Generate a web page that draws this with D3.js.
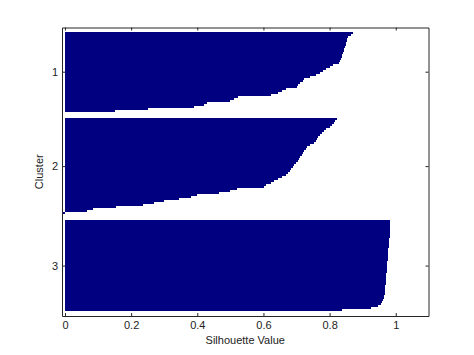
<!DOCTYPE html>
<html>
<head>
<meta charset="utf-8">
<script src="https://cdn.jsdelivr.net/npm/d3@7"></script>
<style>
body { margin: 0; background: #fff; }
text { font-family: "Liberation Sans", Arial, sans-serif; }
</style>
</head>
<body>
<div id="chart"></div>
<script>
// silhouette values, sorted within each cluster
var clusterLabels = ["1", "2", "3"];
var silCluster1 = [0.871, 0.865, 0.857, 0.854, 0.852, 0.851, 0.849, 0.847, 0.845, 0.843,
    0.841, 0.838, 0.836, 0.834, 0.832, 0.829, 0.81, 0.80, 0.79, 0.78,
    0.77, 0.76, 0.74, 0.724, 0.72, 0.712, 0.705, 0.70, 0.668, 0.655,
    0.645, 0.624, 0.522, 0.51, 0.498, 0.43, 0.42, 0.39, 0.25, 0.15];
var silCluster2 = [0.821, 0.817, 0.812, 0.808, 0.80, 0.79, 0.783, 0.776, 0.770, 0.766,
    0.762, 0.758, 0.754, 0.74, 0.733, 0.728, 0.724, 0.72, 0.716, 0.712,
    0.708, 0.704, 0.698, 0.692, 0.688, 0.684, 0.679, 0.673, 0.667, 0.655,
    0.645, 0.632, 0.622, 0.608, 0.602, 0.519, 0.50, 0.465, 0.40, 0.38,
    0.345, 0.30, 0.27, 0.235, 0.155, 0.085, 0.066, -0.007];
var silCluster3 = [0.984, 0.984, 0.984, 0.984, 0.984, 0.983, 0.983, 0.982, 0.982, 0.981,
    0.980, 0.980, 0.979, 0.979, 0.978, 0.978, 0.977, 0.977, 0.976, 0.976,
    0.975, 0.975, 0.974, 0.974, 0.973, 0.973, 0.972, 0.972, 0.971, 0.971,
    0.970, 0.970, 0.969, 0.969, 0.968, 0.967, 0.966, 0.965, 0.964, 0.962,
    0.959, 0.955, 0.945, 0.925, 0.836];
var xTicks = [0, 0.2, 0.4, 0.6, 0.8, 1];
var xTickLabels = ["0", "0.2", "0.4", "0.6", "0.8", "1"];
var gapRows = 3;

var clusters = [silCluster1, silCluster2, silCluster3];

// lay the bars out row by row, with a gap between clusters
var rows = [], clusterCenters = [], r = 0;
clusters.forEach(function(vals, k) {
    clusterCenters.push(r + vals.length / 2);
    vals.forEach(function(v) { rows.push({row: r, value: v, cluster: k}); r++; });
    r += gapRows;
});
var totalRows = r - gapRows;

var margin = {top: 27.5, right: 45.5, bottom: 39, left: 62},
    width = 474 - margin.left - margin.right,
    height = 355 - margin.top - margin.bottom;

var x = d3.scaleLinear()
    .domain([-0.009, 1.099])
    .range([0, width]);

var y = d3.scaleLinear()
    .domain([-2, totalRows + 2.6])
    .range([0, height]);

var svg = d3.select("#chart").append("svg")
    .attr("width", width + margin.left + margin.right)
    .attr("height", height + margin.top + margin.bottom)
  .append("g")
    .attr("transform", "translate(" + margin.left + "," + margin.top + ")");

svg.append("g")
    .attr("class", "bars")
    .attr("shape-rendering", "crispEdges")
  .selectAll("rect")
    .data(rows)
  .enter().append("rect")
    .attr("x", function(d) { return x(Math.min(0, d.value)); })
    .attr("y", function(d) { return y(d.row); })
    .attr("width", function(d) { return Math.abs(x(d.value) - x(0)); })
    .attr("height", function(d) { return y(d.row + 1) - y(d.row); })
    .attr("fill", "#000080");

var axisColor = "#262626";

var xAxis = d3.axisBottom(x)
    .tickValues(xTicks)
    .tickFormat(function(d, i) { return xTickLabels[i]; })
    .tickSizeInner(-3)
    .tickSizeOuter(0)
    .tickPadding(5.5);

var xAxisTop = d3.axisTop(x)
    .tickValues(xTicks)
    .tickFormat("")
    .tickSizeInner(-3)
    .tickSizeOuter(0);

var yAxis = d3.axisLeft(y)
    .tickValues(clusterCenters)
    .tickFormat(function(d, i) { return clusterLabels[i]; })
    .tickSizeInner(-3)
    .tickSizeOuter(0)
    .tickPadding(4);

var yAxisRight = d3.axisRight(y)
    .tickValues(clusterCenters)
    .tickFormat("")
    .tickSizeInner(-3)
    .tickSizeOuter(0);

svg.append("g")
    .attr("class", "x axis")
    .attr("transform", "translate(0," + height + ")")
    .call(xAxis);

svg.append("g")
    .attr("class", "x axis top")
    .call(xAxisTop);

svg.append("g")
    .attr("class", "y axis")
    .call(yAxis);

svg.append("g")
    .attr("class", "y axis right")
    .attr("transform", "translate(" + width + ",0)")
    .call(yAxisRight);

svg.selectAll(".axis path, .axis line")
    .attr("stroke", axisColor);
svg.selectAll(".axis text")
    .attr("fill", "#222")
    .style("font-size", "11px")
    .style("font-family", "'Liberation Sans', Arial, sans-serif");

svg.append("text")
    .attr("x", width / 2)
    .attr("y", height + 28)
    .attr("text-anchor", "middle")
    .attr("fill", "#222")
    .style("font-size", "11px")
    .text("Silhouette Value");

svg.append("text")
    .attr("transform", "translate(" + (39.3 - margin.left) + "," + (height / 2) + ") rotate(-90)")
    .attr("dy", "0.35em")
    .attr("text-anchor", "middle")
    .attr("fill", "#222")
    .style("font-size", "11px")
    .text("Cluster");
</script>
</body>
</html>
